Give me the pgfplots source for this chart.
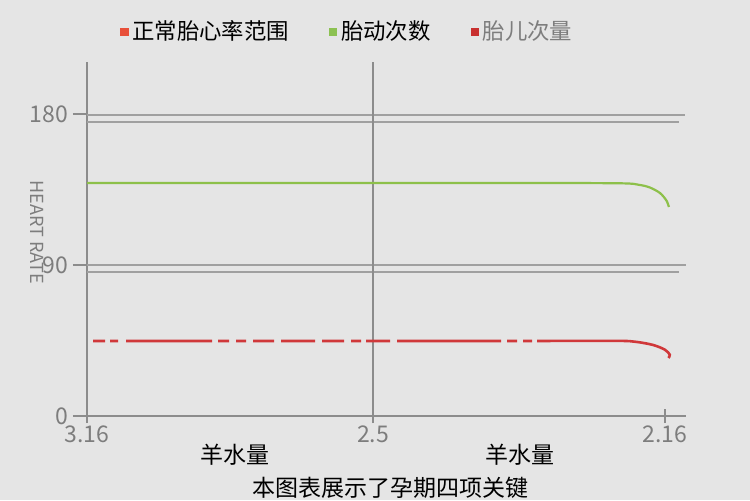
\documentclass[border=0pt]{standalone}
\usepackage{fontspec}
\setmainfont{Noto Sans CJK SC}
\setsansfont{Noto Sans CJK SC}
\usepackage{pgfplots}
\pgfplotsset{compat=1.18}

\definecolor{bg}{RGB}{229,229,229}
\definecolor{gridgray}{RGB}{160,160,160}
\definecolor{axgray}{RGB}{140,140,140}
\definecolor{ticktxt}{RGB}{125,125,125}
\definecolor{lgred}{RGB}{232,80,58}
\definecolor{lggreen}{RGB}{140,193,82}
\definecolor{lgdred}{RGB}{200,48,47}
\definecolor{linegreen}{RGB}{141,192,74}
\definecolor{linered}{RGB}{208,56,58}

\begin{document}
\begin{tikzpicture}
% 1 px of the reference = 0.5pt
\useasboundingbox (0,0) rectangle (375pt,250pt);
\clip (0,0) rectangle (375pt,250pt);
\fill[bg] (0,0) rectangle (375pt,250pt);

\begin{axis}[
    at={(43.5pt,42pt)}, anchor=south west,
    scale only axis,
    width=299.5pt, height=177pt,
    xmin=0, xmax=2.073,
    ymin=0, ymax=211,
    axis lines=left,
    axis line style={-, draw=axgray, line width=0.6pt},
    xtick={0,0.99,2},
    xticklabels={3.16,2.5,2.16},
    ytick={0,90,180},
    x tick style={draw=axgray, line width=0.6pt},
    y tick style={draw=axgray, line width=0.6pt},
    xtick align=center, ytick align=outside,
    major tick length=7pt,
    tick label style={font=\fontsize{11.5}{14}\selectfont, text=ticktxt},
    /pgf/number format/assume math mode=true,
    xticklabel style={yshift=2pt},
    yticklabel style={xshift=1pt},
    clip=false,
    legend columns=3,
    legend cell align=left,
    legend style={at={(0.045,1.085)}, anchor=west, draw=none, fill=none,
        font=\fontsize{11.2}{13}\selectfont,
        /tikz/every even column/.append style={column sep=18pt}},
]
\addlegendimage{legend image code/.code={\fill[lgred] (0pt,-1.8pt) rectangle (3.6pt,1.8pt);}}
\addlegendentry{正常胎心率范围}
\addlegendimage{legend image code/.code={\fill[lggreen] (0pt,-1.8pt) rectangle (3.6pt,1.8pt);}}
\addlegendentry{胎动次数}
\addlegendimage{legend image code/.code={\fill[lgdred] (0pt,-1.8pt) rectangle (3.6pt,1.8pt);}}
\addlegendentry{\textcolor{ticktxt}{胎儿次量}}

% double reference lines
\addplot[forget plot, gridgray, line width=0.7pt] coordinates {(0,179.4)(2.07,179.4)};
\addplot[forget plot, gridgray, line width=0.7pt] coordinates {(0,175.2)(2.05,175.2)};
\addplot[forget plot, gridgray, line width=0.7pt] coordinates {(0,90)(2.073,90)};
\addplot[forget plot, gridgray, line width=0.7pt] coordinates {(0,85.8)(2.05,85.8)};
% vertical middle line
\addplot[forget plot, axgray, line width=0.6pt] coordinates {(0.99,0)(0.99,211)};

% green series
\addplot[forget plot, linegreen, line width=1.1pt, smooth] coordinates {
    (0,138.9)(0.5,138.9)(1.0,138.9)(1.5,138.9)(1.845,138.7)(1.91,137.8)
    (1.948,136.2)(1.983,132.9)(2.005,128.5)(2.014,124.6)};

% red series
\addplot[forget plot, linered, line width=1.3pt, smooth,
    dash pattern=on 6pt off 2.5pt on 4pt off 4pt on 43pt off 3pt on 5.5pt off 3.5pt
    on 5pt off 3.5pt on 10.5pt off 3.5pt on 17pt off 3.5pt on 11pt off 3.5pt
    on 5pt off 2.5pt on 12pt off 3.5pt on 52pt off 3pt on 5pt off 3pt
    on 4.5pt off 2.5pt on 200pt off 0pt] coordinates {
    (0.021,44.7)(0.5,44.7)(1.0,44.7)(1.5,44.7)(1.83,44.8)(1.9,44.2)
    (1.96,42.3)(2.0,39.5)(2.017,36.5)(2.012,34.6)};
\end{axis}

\node[font=\fontsize{11.5}{13}\selectfont] at (117.5pt,22.5pt) {羊水量};
\node[font=\fontsize{11.5}{13}\selectfont] at (260pt,22.5pt) {羊水量};
\node[font=\fontsize{9}{11}\selectfont, text=ticktxt, rotate=-90] at (18.5pt,134pt) {HEART RATE};
\node[font=\fontsize{11.5}{13}\selectfont] at (195pt,6.2pt) {本图表展示了孕期四项关键};
\end{tikzpicture}
\end{document}
